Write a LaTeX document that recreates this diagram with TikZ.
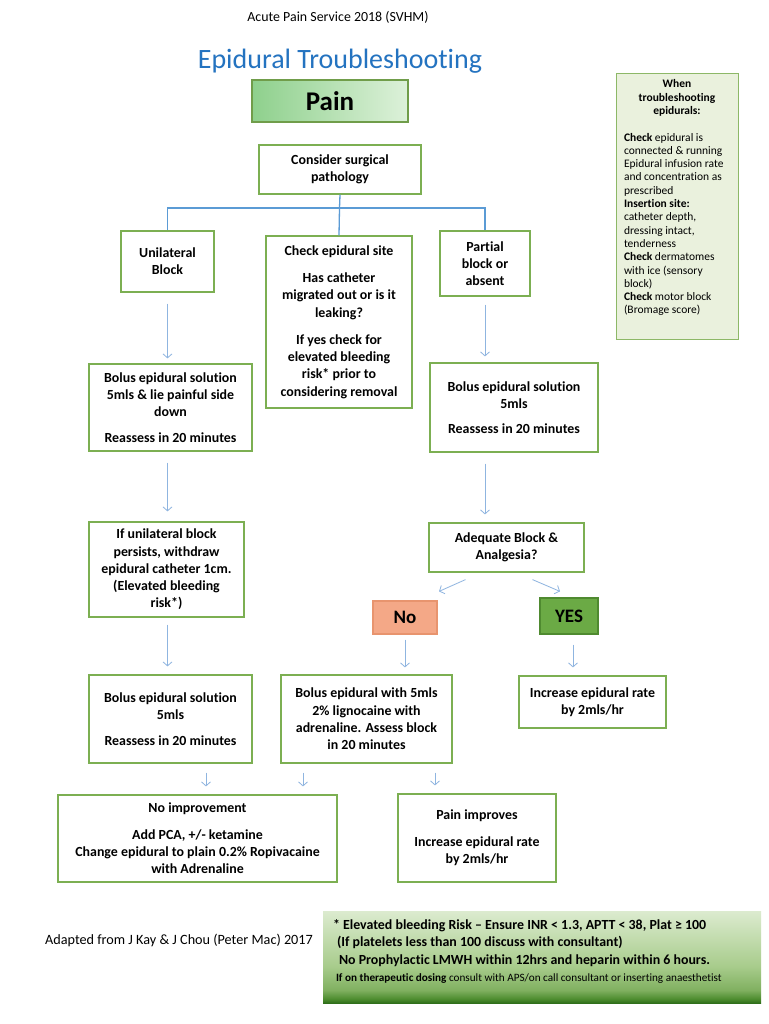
\documentclass[tikz,border=0pt]{standalone}
\usepackage{fontspec}
\setmainfont{Carlito}[Ligatures=NoCommon]
\usepackage{tikz}
\usetikzlibrary{arrows.meta, calc}
\definecolor{apsgreen}{HTML}{7CAF52}
\definecolor{apsblue}{HTML}{2473C0}
\definecolor{arcol}{HTML}{8FB5E0}
\definecolor{treecol}{HTML}{5B9BD5}
\definecolor{painL}{HTML}{8ED08C}
\definecolor{painR}{HTML}{DDF1DA}
\definecolor{nofill}{HTML}{F4A887}
\definecolor{nodraw}{HTML}{E8946E}
\definecolor{yesfill}{HTML}{6BAA45}
\definecolor{yesdraw}{HTML}{4F8A30}
\definecolor{sidebg}{HTML}{EAF1DD}
\definecolor{sidedraw}{HTML}{8DB867}
\definecolor{bleedA}{HTML}{2F6F1A}
\definecolor{bleedB}{HTML}{4A8A2C}
\definecolor{bleedC}{HTML}{80B060}
\definecolor{bleedD}{HTML}{A8CC8C}
\definecolor{bleedE}{HTML}{DCEBCF}
\pgfdeclareverticalshading{bleedshade}{100bp}{color(0bp)=(bleedA); color(25bp)=(bleedA);
  color(27bp)=(bleedB); color(32bp)=(bleedC); color(45bp)=(bleedD);
  color(75bp)=(bleedE); color(100bp)=(bleedE)}
\newcommand{\flowfont}{\fontsize{13.9}{17.3}\selectfont\bfseries}
\tikzset{
  flow/.style={rectangle, draw=apsgreen, line width=1.2pt, align=center,
    font=\flowfont, inner sep=2pt},
  sidebox/.style={rectangle, draw=sidedraw, line width=1pt, fill=sidebg,
    align=flush left, font=\fontsize{11.5}{13.3}\selectfont, inner xsep=8pt},
  bleedbox/.style={rectangle, shading=bleedshade, align=flush left, inner xsep=10pt,
    font=\fontsize{13.9}{17.5}\selectfont\bfseries},
  ar/.style={arcol, line width=0.8pt, -{Straight Barb[length=4pt, width=9pt]}},
  tree/.style={treecol, line width=1.3pt},
}
\begin{document}
\begin{tikzpicture}[x=1pt, y=-1pt]
  \fill[white] (0,0) rectangle (768,1024);
  \node[font=\fontsize{13.9}{16}\selectfont] (svc) at (338,17) {Acute Pain Service 2018 (SVHM)};
  \node[font=\fontsize{28}{32}\selectfont, text=apsblue] (ttl) at (340,61) {Epidural Troubleshooting};

  \node[flow, draw=apsgreen!90!black, minimum width=156pt, minimum height=42pt,
    left color=painL, right color=painR, font=\fontsize{27}{30}\selectfont\bfseries] (pain) at (330,101) {Pain};
  \node[flow, minimum width=162pt, minimum height=49pt] (cons) at (340,169.5) {Consider surgical\\ pathology};
  \node[flow, minimum width=93pt, minimum height=61pt] (uni) at (167.5,261.5) {Unilateral\\ Block};
  \node[flow, minimum width=146pt, minimum height=172pt] (site) at (339,322)
    {Check epidural site\\[10pt] Has catheter\\ migrated out or is it\\ leaking?\\[10pt]
     If yes check for\\ elevated bleeding\\ risk* prior to\\ considering removal};
  \node[flow, minimum width=90pt, minimum height=65pt] (part) at (485,263.5) {Partial\\ block or\\ absent};
  \node[flow, minimum width=163pt, minimum height=87pt] (bol1) at (170.5,407.5)
    {Bolus epidural solution\\ 5mls \& lie painful side\\ down\\[8pt] Reassess in 20 minutes};
  \node[flow, minimum width=168pt, minimum height=89pt] (bol2) at (514,407.5)
    {Bolus epidural solution\\ 5mls\\[8pt] Reassess in 20 minutes};
  \node[flow, minimum width=155pt, minimum height=95pt] (ifuni) at (166.5,569.5)
    {If unilateral block\\ persists, withdraw\\ epidural catheter 1cm.\\ (Elevated bleeding\\ risk*)};
  \node[flow, minimum width=155pt, minimum height=49pt] (adeq) at (506.5,547.5) {Adequate Block \&\\ Analgesia?};
  \node[flow, draw=nodraw, fill=nofill, minimum width=64pt, minimum height=33pt,
    font=\fontsize{19}{22}\selectfont\bfseries] (no) at (405,617.5) {No};
  \node[flow, draw=yesdraw, fill=yesfill, minimum width=58pt, minimum height=36pt,
    font=\fontsize{19}{22}\selectfont\bfseries] (yes) at (569,616) {YES};
  \node[flow, minimum width=163pt, minimum height=88pt] (bol3) at (170.5,719)
    {Bolus epidural solution\\ 5mls\\[8pt] Reassess in 20 minutes};
  \node[flow, minimum width=171pt, minimum height=88pt] (lig) at (366.5,719)
    {Bolus epidural with 5mls\\ 2\% lignocaine with\\ adrenaline. Assess block\\ in 20 minutes};
  \node[flow, minimum width=147pt, minimum height=52pt] (incr) at (592.5,702) {Increase epidural rate\\ by 2mls/hr};
  \node[flow, minimum width=279pt, minimum height=87pt] (noimp) at (197.5,838.5)
    {No improvement\\[9pt] Add PCA, +/- ketamine\\ Change epidural to plain 0.2\% Ropivacaine\\ with Adrenaline};
  \node[flow, minimum width=158pt, minimum height=88pt] (painimp) at (477,838)
    {Pain improves\\[9pt] Increase epidural rate\\ by 2mls/hr};

  \node[sidebox, minimum width=122pt, minimum height=265pt, text width=106pt] (checks) at (677,206.5)
    {{\centering\bfseries When\\ troubleshooting\\ epidurals:\par}\vspace{13.3pt}
     \textbf{Check} epidural is\\ connected \& running\\ Epidural infusion rate\\ and concentration as\\
     prescribed\\ \textbf{Insertion site:}\\ catheter depth,\\ dressing intact,\\ tenderness\\
     \textbf{Check} dermatomes\\ with ice (sensory\\ block)\\ \textbf{Check} motor block\\
     (Bromage score)\par\vspace{6pt}\hbox{}};

  \node[font=\fontsize{14.2}{16}\selectfont] (adapt) at (179,940) {Adapted from J Kay \& J Chou (Peter Mac) 2017};
  \node[bleedbox, minimum width=438pt, minimum height=92pt, text width=418pt] (bleed) at (542,957)
    {* Elevated bleeding Risk -- Ensure INR < 1.3, APTT < 38, Plat ≥ 100\\
     \hspace*{4pt}(If platelets less than 100 discuss with consultant)\\
     \hspace*{6pt}No Prophylactic LMWH within 12hrs and heparin within 6 hours.\\
     \hspace*{3pt}{\fontsize{11.2}{15}\selectfont If on therapeutic dosing \mdseries consult with APS/on call consultant or inserting anaesthetist}\par
     \vspace{-5pt}\hbox{}};

  \coordinate (split) at (339.5,208);
  \draw[tree] (cons.south) -- (split);
  \draw[tree] (split) -| (uni.north);
  \draw[tree] (split) -| (part.north);
  \draw[tree] (split) -- (site.north);

  \draw[ar, shorten <=11pt, shorten >=5pt] (uni.south) -- (uni.south |- bol1.north);
  \draw[ar, shorten <=8pt, shorten >=6pt] (part.south) -- (part.south |- bol2.north);
  \draw[ar, shorten <=11pt, shorten >=10pt] (uni.south |- bol1.south) -- (uni.south |- ifuni.north);
  \draw[ar, shorten <=11pt, shorten >=8pt] (part.south |- bol2.south) -- (part.south |- adeq.north);
  \draw[ar, shorten <=7pt, shorten >=8pt] (uni.south |- ifuni.south) -- (uni.south |- bol3.north);
  \draw[ar] ([xshift=-41pt, yshift=-7pt]adeq.south) -- ([xshift=34pt, yshift=9pt]no.north);
  \draw[ar] ([xshift=26pt, yshift=-7pt]adeq.south) -- ([xshift=-9pt, yshift=6pt]yes.north);
  \draw[ar, shorten <=5pt, shorten >=7pt] (no.south) -- (no.south |- lig.north);
  \draw[ar, shorten <=10pt, shorten >=8pt] ([xshift=4pt]yes.south) -- ([xshift=4pt]yes.south |- incr.north);
  \draw[ar, shorten <=9pt, shorten >=8pt] ([xshift=35.5pt]bol3.south) -- ([xshift=35.5pt]bol3.south |- noimp.north);
  \draw[ar, shorten <=9pt, shorten >=8pt] ([xshift=-63.5pt]lig.south) -- ([xshift=-63.5pt]lig.south |- noimp.north);
  \draw[ar, shorten <=9pt, shorten >=8pt] ([xshift=68.5pt]lig.south) -- ([xshift=68.5pt]lig.south |- painimp.north);
\end{tikzpicture}
\end{document}
